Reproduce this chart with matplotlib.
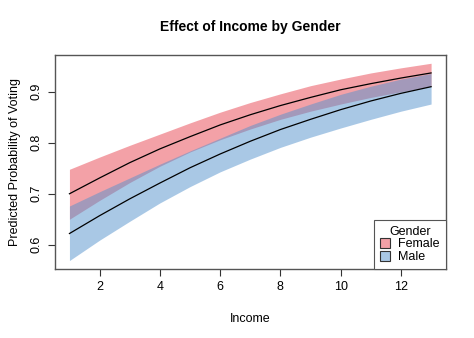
import matplotlib
matplotlib.use("Agg")
import matplotlib.pyplot as plt
from matplotlib.patches import Patch

plt.rcParams['font.family'] = ['Liberation Sans', 'DejaVu Sans']

# income levels and predicted probabilities
income = [1, 2, 3, 4, 5, 6, 7, 8, 9, 10, 11, 12, 13]

female_fit = [0.700, 0.731, 0.761, 0.788, 0.812, 0.835, 0.855, 0.873, 0.889, 0.904, 0.916, 0.927, 0.937]
female_lo = [0.650, 0.687, 0.722, 0.754, 0.782, 0.806, 0.827, 0.846, 0.862, 0.876, 0.889, 0.900, 0.911]
female_hi = [0.748, 0.772, 0.795, 0.817, 0.839, 0.860, 0.879, 0.896, 0.912, 0.925, 0.937, 0.947, 0.956]

male_fit = [0.622, 0.657, 0.690, 0.721, 0.751, 0.778, 0.803, 0.826, 0.846, 0.865, 0.882, 0.897, 0.910]
male_lo = [0.569, 0.609, 0.646, 0.682, 0.714, 0.743, 0.768, 0.791, 0.811, 0.829, 0.846, 0.862, 0.876]
male_hi = [0.676, 0.704, 0.731, 0.758, 0.784, 0.809, 0.834, 0.856, 0.876, 0.895, 0.911, 0.925, 0.936]

groups = ["Female", "Male"]

female_col = (232/255, 68/255, 80/255, 0.5)
male_col = (84/255, 146/255, 205/255, 0.5)

fig = plt.figure(figsize=(4.74, 3.38), dpi=100)
ax = fig.add_axes([0.116, 0.205, 0.824, 0.632])

ax.fill_between(income, female_lo, female_hi, color=female_col, lw=0)
ax.fill_between(income, male_lo, male_hi, color=male_col, lw=0)
ax.plot(income, female_fit, color='black', lw=0.9)
ax.plot(income, male_fit, color='black', lw=0.9)

ax.set_xlim(0.52, 13.48)
ax.set_ylim(0.553, 0.972)
ax.set_xticks([2, 4, 6, 8, 10, 12])
ax.set_yticks([0.6, 0.7, 0.8, 0.9])
ax.set_yticklabels(['0.6', '0.7', '0.8', '0.9'], rotation=90, va='center')
ax.tick_params(direction='out', length=5, width=0.8, labelsize=9, color='#333333', pad=4)

for s in ax.spines.values():
    s.set_color('#555555')
    s.set_linewidth(1.0)

ax.set_title("Effect of Income by Gender", fontsize=10, fontweight='bold', pad=17)
ax.set_xlabel("Income", fontsize=9, labelpad=14)
ax.set_ylabel("Predicted Probability of Voting", fontsize=9, labelpad=7)

handles = [Patch(facecolor=female_col, edgecolor='#333333', lw=0.8),
           Patch(facecolor=male_col, edgecolor='#333333', lw=0.8)]
leg = ax.legend(handles, groups, title="Gender", loc='lower right',
                bbox_to_anchor=(1.0, 0.0), borderaxespad=0, fontsize=9,
                title_fontsize=9, fancybox=False, framealpha=1,
                handlelength=0.8, handleheight=0.8, handletextpad=0.7,
                labelspacing=0.05, borderpad=0.45)
leg.get_frame().set_edgecolor('#555555')
leg.get_frame().set_linewidth(0.8)

fig.savefig("out.png", dpi=100)
